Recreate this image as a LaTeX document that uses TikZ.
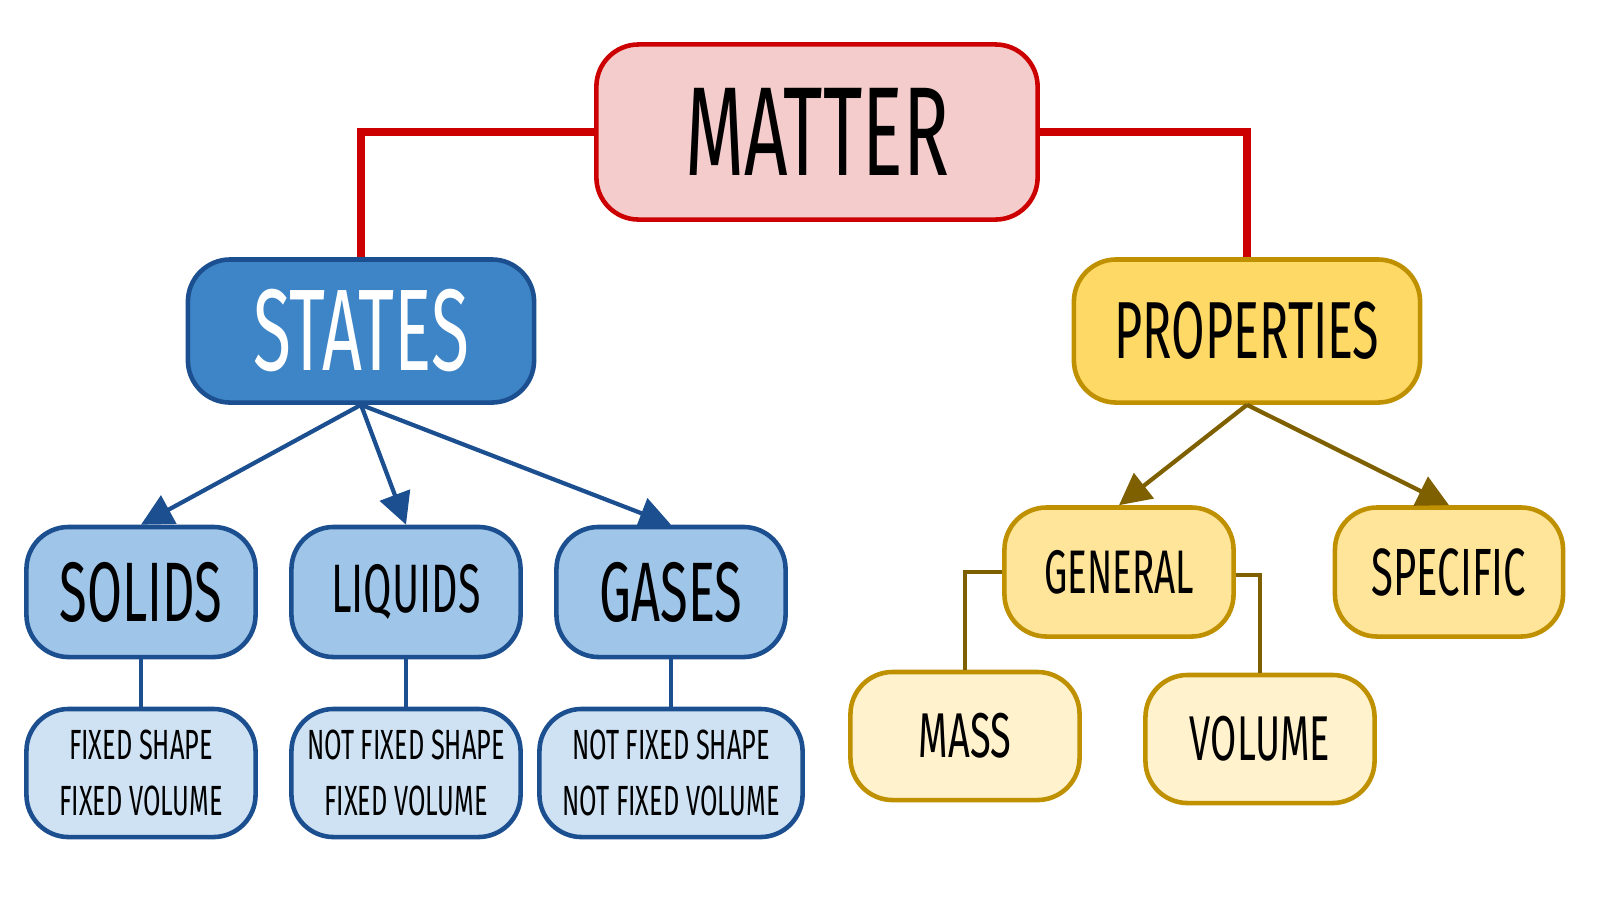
\documentclass[tikz,border=0pt]{standalone}
\usepackage{fontspec}
\setmainfont{Fira Sans}
\usepackage{graphicx}
\usetikzlibrary{arrows.meta}
\definecolor{mred}{HTML}{CC0000}\definecolor{mpink}{HTML}{F4CCCC}
\definecolor{sblue}{HTML}{3D85C6}\definecolor{dblue}{HTML}{1C4F8F}
\definecolor{lblue}{HTML}{9FC5E8}\definecolor{llblue}{HTML}{CFE2F3}
\definecolor{gold}{HTML}{BF9000}\definecolor{y1}{HTML}{FFD966}
\definecolor{y2}{HTML}{FFE599}\definecolor{y3}{HTML}{FFF2CC}\definecolor{brn}{HTML}{7F6000}
\newcommand{\nar}[1]{\scalebox{0.6}[1]{#1}}
\tikzset{
 box/.style={rectangle,rounded corners=12pt,line width=1.3pt,align=center,inner sep=0pt},
 small/.style={font=\fontsize{12}{16}\selectfont},
}
\begin{document}
\begin{tikzpicture}[x=0.01cm,y=-0.01cm]
\useasboundingbox (0,0) rectangle (1600,911);
\node[box,draw=mred,fill=mpink,minimum width=4.41cm,minimum height=1.75cm] (matter) at (817,132) {\fontsize{36}{40}\selectfont\nar{MATTER}};
\node[box,draw=dblue,fill=sblue,text=white,minimum width=3.46cm,minimum height=1.43cm] (states) at (361,331) {\fontsize{33}{40}\selectfont\nar{STATES}};
\node[box,draw=gold,fill=y1,minimum width=3.46cm,minimum height=1.43cm] (props) at (1247,331) {\fontsize{23}{32}\selectfont\nar{PROPERTIES}};
\foreach \n/\x/\t/\s in {solids/141/SOLIDS/24,liquids/406/LIQUIDS/19.5,gases/671/GASES/24}
 \node[box,draw=dblue,fill=lblue,minimum width=2.29cm,minimum height=1.3cm] (\n) at (\x,592) {\fontsize{\s}{\s}\selectfont\nar{\t}};
\node[box,small,draw=dblue,fill=llblue,minimum width=2.29cm,minimum height=1.28cm] (f1) at (141,773) {\nar{FIXED SHAPE}\\\nar{FIXED VOLUME}};
\node[box,small,draw=dblue,fill=llblue,minimum width=2.29cm,minimum height=1.28cm] (f2) at (406,773) {\nar{NOT FIXED SHAPE}\\\nar{FIXED VOLUME}};
\node[box,small,draw=dblue,fill=llblue,minimum width=2.63cm,minimum height=1.28cm] (f3) at (671,773) {\nar{NOT FIXED SHAPE}\\\nar{NOT FIXED VOLUME}};
\node[box,draw=gold,fill=y2,minimum width=2.29cm,minimum height=1.29cm] (gen) at (1119,572) {\fontsize{17.5}{24}\selectfont\nar{GENERAL}};
\node[box,draw=gold,fill=y2,minimum width=2.28cm,minimum height=1.29cm] (spec) at (1449,572) {\fontsize{19}{24}\selectfont\nar{SPECIFIC}};
\node[box,draw=gold,fill=y3,minimum width=2.29cm,minimum height=1.28cm] (mass) at (965,736) {\fontsize{18}{24}\selectfont\nar{MASS}};
\node[box,draw=gold,fill=y3,minimum width=2.29cm,minimum height=1.28cm] (vol) at (1260,739) {\fontsize{18}{24}\selectfont\nar{VOLUME}};
\draw[mred,line width=2.3pt] (matter.west) -| (states.north);
\draw[mred,line width=2.3pt] (matter.east) -| (props.north);
\foreach \t in {solids,liquids,gases}
 \draw[dblue,line width=1.2pt,-{Triangle[length=9pt,width=9pt]}] (states.south) -- (\t.north);
\foreach \t in {gen,spec}
 \draw[brn,line width=1.2pt,-{Triangle[length=9pt,width=9pt]}] (props.south) -- (\t.north);
\draw[dblue,line width=1.2pt] (solids) -- (f1) (liquids) -- (f2) (gases) -- (f3);
\draw[brn,line width=1.2pt] (gen.west) -| (mass.north);
\draw[brn,line width=1.2pt] ([yshift=-0.03cm]gen.east) -| (vol.north);
\end{tikzpicture}
\end{document}
